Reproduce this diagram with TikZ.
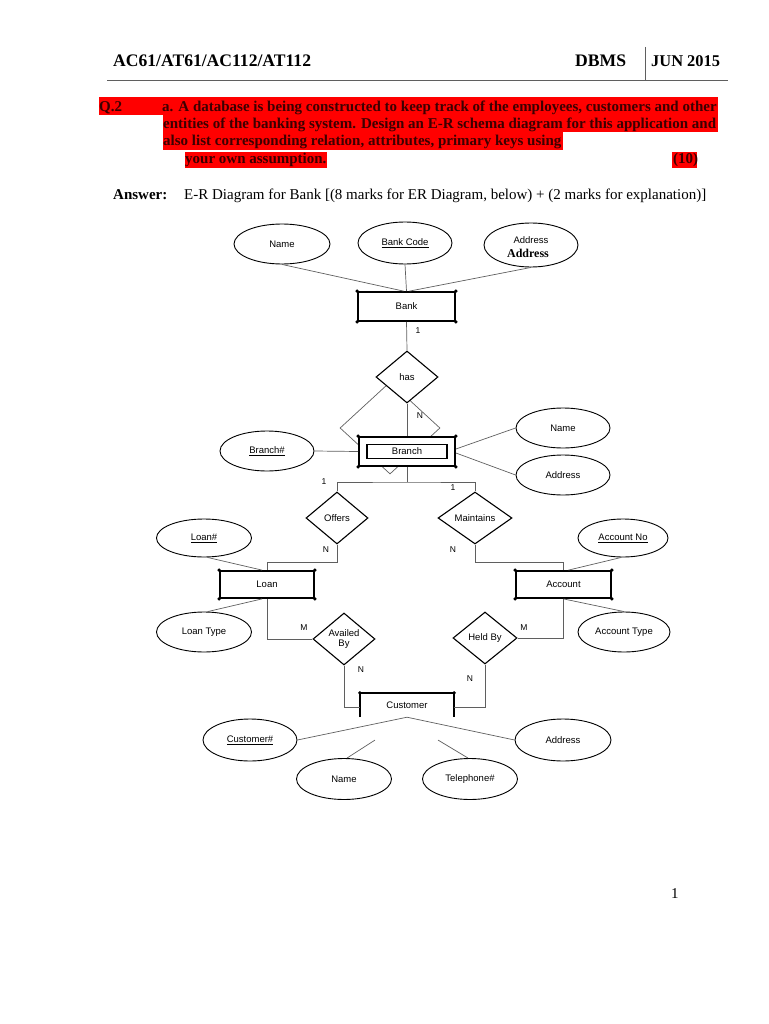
\documentclass[tikz,border=0pt]{standalone}
\usepackage{fontspec}
\setmainfont{Liberation Serif}
\setsansfont{Liberation Sans}
\usetikzlibrary{shapes.geometric}
\definecolor{hilite}{RGB}{255,0,0}
\definecolor{qtext}{RGB}{60,0,0}
\definecolor{linkgray}{RGB}{95,95,95}

\begin{document}
\begin{tikzpicture}[x=1pt, y=-1pt, every node/.append style={text=black, font=\fontsize{9.5}{10.5}\selectfont\sffamily},
	attr/.style={draw, ellipse, fill=white, line width=0.9pt, minimum width=94, minimum height=40, inner sep=0},
	ent/.style={draw, fill=white, line width=1.8pt, minimum width=96, minimum height=28, inner sep=0},
	rel/.style={draw, diamond, fill=white, line width=1.1pt, minimum width=62, minimum height=52, inner sep=0, align=center},
	link/.style={draw=linkgray, line width=0.7pt},
	card/.style={font=\fontsize{8.5}{9}\selectfont\sffamily, inner sep=0},
	head/.style={anchor=base west, inner sep=0, font=\fontsize{17.6}{20}\selectfont\bfseries\rmfamily},
	ques/.style={anchor=base west, inner sep=0, text=qtext, font=\fontsize{15}{17}\selectfont\bfseries\rmfamily}]
	\useasboundingbox (0,0) rectangle (768,1024);

	% page header
	\node[head] (code) at (113,67) {AC61/AT61/AC112/AT112};
	\node[head] (subj) at (575,67) {DBMS};
	\node[head, font=\fontsize{16.4}{20}\selectfont\bfseries\rmfamily] (date) at (651,67) {JUN 2015};
	\draw[linkgray, line width=0.9pt] (107,80) -- (728,80);
	\draw[linkgray, line width=0.9pt] (645,47) -- (645,80);

	% question, highlighted
	\fill[hilite] (99,97) rectangle (718,115);
	\fill[hilite] (163,115) rectangle (718,132);
	\fill[hilite] (163,132) rectangle (563,150);
	\fill[hilite] (185,152) rectangle (327,168);
	\fill[hilite] (672,152) rectangle (697,168);
	\node[ques] (qno) at (99,112) {Q.2};
	\node[ques] (q1) at (162,112) {a. A database is being constructed to keep track of the employees, customers and other};
	\node[ques] (q2) at (163,129) {entities of the banking system. Design an E-R schema diagram for this application and};
	\node[ques] (q3) at (163,146) {also list corresponding relation, attributes, primary keys using};
	\node[ques] (q4) at (185,164) {your own assumption.};
	\node[ques] (marks) at (673,164) {(10)};

	\node[anchor=base west, inner sep=0, font=\fontsize{15}{18}\selectfont\bfseries\rmfamily] (ans) at (113,200) {Answer:};
	\node[anchor=base west, inner sep=0, font=\fontsize{15}{18}\selectfont\rmfamily] (anstext) at (184,200) {E-R Diagram for Bank [(8 marks for ER Diagram, below) + (2 marks for explanation)]};

	% weak relationship outline behind has / Branch
	\node[draw=linkgray, diamond, minimum width=100, minimum height=92, inner sep=0, line width=0.7pt] (hasw) at (390,428) {};

	\node[attr, minimum width=96] (bname) at (282,244) {Name};
	\node[attr, minimum height=42] (bcode) at (405,243) {\underline{Bank Code}};
	\node[attr, minimum height=44] (baddr) at (531,245) {};
	\node[inner sep=0] (baddr1) at (531,240) {Address};
	\node[fill=white, inner sep=1.5, font=\fontsize{12}{13}\selectfont\bfseries\rmfamily] (baddr2) at (528,253) {Address};

	\node[ent, minimum width=97, minimum height=29] (bank) at (406.5,306.5) {Bank};
	\node[rel] (has) at (407,377) {has};
	\node[ent, minimum height=29] (branch) at (407,451.5) {};
	\node[draw, line width=1.3pt, minimum width=80, minimum height=14, inner sep=0] (branchin) at (branch) {Branch};
	\node[attr] (bnum) at (267,451) {\underline{Branch\#}};
	\node[attr] (brname) at (563,428) {Name};
	\node[attr] (braddr) at (563,475) {Address};

	\node[rel] (offers) at (337,518) {Offers};
	\node[rel, minimum width=74] (maint) at (475,518) {Maintains};
	\node[ent, minimum width=94, minimum height=27] (loan) at (267,584.5) {Loan};
	\node[ent, minimum width=95, minimum height=27] (account) at (563.5,584.5) {Account};
	\node[attr, minimum width=95, minimum height=38] (loannum) at (204,538) {\underline{Loan\#}};
	\node[attr, minimum width=90, minimum height=38] (accno) at (623,538) {\underline{Account No}};
	\node[attr, minimum width=95] (lntype) at (204,632) {Loan Type};
	\node[attr, minimum width=92] (acctype) at (624,632) {Account Type};

	\node[rel] (avail) at (344,639) {Availed\\By};
	\node[rel, minimum width=64] (held) at (485,638) {Held By};
	\node[minimum width=94, minimum height=24, inner sep=0] (cust) at (407,705) {Customer};
	\node[attr, minimum height=42] (custnum) at (250,740) {\underline{Customer\#}};
	\node[attr, minimum width=96, minimum height=42] (caddr) at (563,740) {Address};
	\node[attr, minimum width=95, minimum height=41] (cname) at (344,779) {Name};
	\node[attr, minimum width=95, minimum height=41] (ctel) at (470,779) {Telephone\#};

	\draw[line width=1.8pt] (cust.south west) -- (cust.north west) -- (cust.north east) -- (cust.south east);
	\foreach \e in {bank, branch, loan, account}
		\foreach \c in {north west, north east, south west, south east}
			\fill (\e.\c) circle (1.8);
	\foreach \c in {north west, north east}
		\fill (cust.\c) circle (1.8);

	% connectors
	\draw[link] (bname.south) -- ([xshift=-3pt]bank.north);
	\draw[link] (bcode.south) -- (bank.north);
	\draw[link] (baddr.south) -- ([xshift=3pt]bank.north);
	\draw[link] (bank.south) -- (has.north);
	\draw[link] (has.south) -- (branch.north);
	\draw[link] (bnum.east) -- (branch.west);
	\draw[link] ([yshift=2.5pt]branch.east) -- (brname.west);
	\draw[link] ([yshift=-1.5pt]branch.east) -- (braddr.west);

	\coordinate (fork) at (407,482);
	\draw[link] (branch.south) -- (fork);
	\draw[link] (offers.north) |- (fork) -| (maint.north);
	\draw[link] (offers.south) -- ++(0,18) -| (loan.north);
	\draw[link] (maint.south) -- ++(0,18) -| (account.north);
	\draw[link] (loannum.-80) -- ([xshift=-5pt]loan.north);
	\draw[link] (accno.-95) -- ([xshift=5pt]account.north);
	\draw[link] ([xshift=-5pt]loan.south) -- (lntype.80);
	\draw[link] (account.south) -- (acctype.north);

	\draw[link] (loan.south) |- (avail.west);
	\draw[link] (account.south) |- (held.east);
	\draw[link] (avail.south) |- ([yshift=-2pt]cust.west);
	\draw[link] (held.south) |- ([yshift=-2pt]cust.east);
	\draw[link] (cust.south) -- (custnum.east);
	\draw[link] (cust.south) -- (caddr.west);
	\draw[link] (cname.north) ++(3,0) -- ++(28,-18);
	\draw[link] (ctel.north) ++(-2,0) -- ++(-30,-18);

	\foreach \n/\t/\x/\y in {c1/1/418/331, c2/N/420/416, c3/1/324/482, c4/1/453/488, c5/N/326/550, c6/N/453/550, c7/M/304/628, c8/M/524/628, c9/N/361/670, c10/N/470/679}
		\node[card] (\n) at (\x,\y) {\t};

	\node[anchor=base west, inner sep=0, font=\fontsize{15}{18}\selectfont\rmfamily] (page) at (671,898) {1};
\end{tikzpicture}
\end{document}
